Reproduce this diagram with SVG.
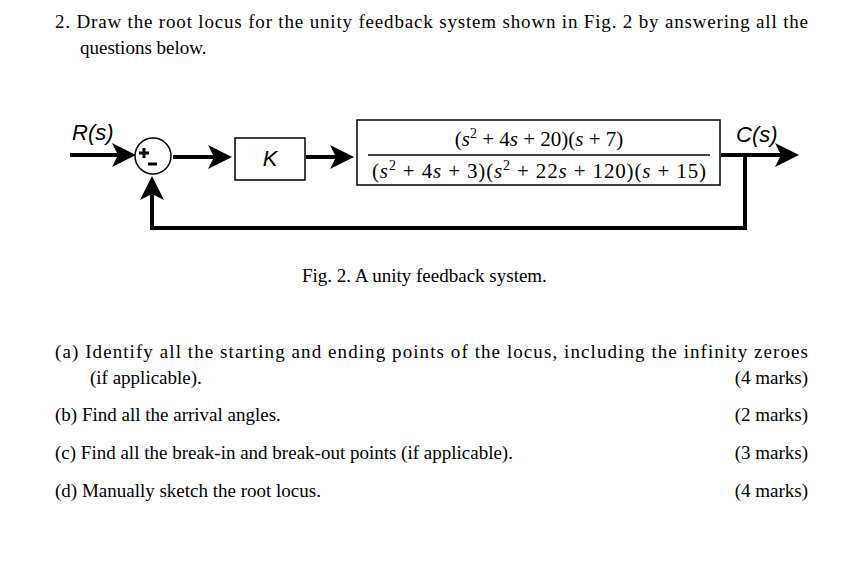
<svg xmlns="http://www.w3.org/2000/svg" width="860" height="565" viewBox="0 0 860 565">
<style>
.t{font-family:"Liberation Serif",serif;font-size:19px;fill:#000}
.m{font-family:"Liberation Serif",serif;font-size:21px;fill:#000}
.a{font-family:"Liberation Sans",sans-serif;font-size:22px;fill:#000}
.w{stroke:#000;stroke-width:4;fill:none}
.b{stroke:#000;stroke-width:1.5;fill:#fff}
</style>
<defs><marker id="ar" markerWidth="6" markerHeight="6" refX="5" refY="3" orient="auto" markerUnits="strokeWidth"><path d="M0,0 L6,3 L0,6 L1.5,3 Z" fill="#000"/></marker></defs>
<rect width="860" height="565" fill="#fff"/>
<text class="t" x="55" y="28" textLength="753" lengthAdjust="spacing">2. Draw the root locus for the unity feedback system shown in Fig. 2 by answering all the</text>
<text class="t" x="80" y="54">questions below.</text>
<g id="connectors">
<line class="w" x1="70" y1="155" x2="132" y2="155" marker-end="url(#ar)"/>
<line class="w" x1="173" y1="157" x2="228" y2="157" marker-end="url(#ar)"/>
<line class="w" x1="306" y1="157" x2="350" y2="157" marker-end="url(#ar)"/>
<line class="w" x1="721" y1="155" x2="795" y2="155" marker-end="url(#ar)"/>
<polyline class="w" points="745,155 745,228 152,228 152,180" marker-end="url(#ar)"/>
</g>
<g id="R"><text class="a" x="72" y="140" font-style="italic">R(s)</text></g>
<g id="sum"><circle class="b" cx="153" cy="156" r="18"/>
<path d="M139,153 H149 M144,148 V158 M148,164 H157" stroke="#000" stroke-width="3"/></g>
<g id="K"><rect class="b" x="235" y="138" width="70" height="42"/><text class="a" x="270" y="166" text-anchor="middle" font-style="italic">K</text></g>
<g id="G"><rect class="b" x="357" y="120" width="363" height="65"/>
<line x1="368" y1="155" x2="710" y2="155" stroke="#000" stroke-width="1.5"/>
<text class="m" x="539" y="146" text-anchor="middle">(<tspan font-style="italic">s</tspan><tspan font-size="14" dy="-8">2</tspan><tspan dy="8"> + 4</tspan><tspan font-style="italic">s</tspan> + 20)(<tspan font-style="italic">s</tspan> + 7)</text>
<text class="m" x="539" y="178" text-anchor="middle" textLength="334" lengthAdjust="spacing">(<tspan font-style="italic">s</tspan><tspan font-size="14" dy="-8">2</tspan><tspan dy="8"> + 4</tspan><tspan font-style="italic">s</tspan> + 3)(<tspan font-style="italic">s</tspan><tspan font-size="14" dy="-8">2</tspan><tspan dy="8"> + 22</tspan><tspan font-style="italic">s</tspan> + 120)(<tspan font-style="italic">s</tspan> + 15)</text></g>
<g id="C"><text class="a" x="736" y="142" font-style="italic">C(s)</text></g>
<text class="t" x="302" y="282">Fig. 2. A unity feedback system.</text>
<text class="t" x="55" y="358" textLength="753" lengthAdjust="spacing">(a) Identify all the starting and ending points of the locus, including the infinity zeroes</text>
<text class="t" x="90" y="384">(if applicable).</text>
<text class="t" x="808" y="384" text-anchor="end">(4 marks)</text>
<text class="t" x="55" y="421">(b) Find all the arrival angles.</text>
<text class="t" x="808" y="421" text-anchor="end">(2 marks)</text>
<text class="t" x="55" y="459">(c) Find all the break-in and break-out points (if applicable).</text>
<text class="t" x="808" y="459" text-anchor="end">(3 marks)</text>
<text class="t" x="55" y="497">(d) Manually sketch the root locus.</text>
<text class="t" x="808" y="497" text-anchor="end">(4 marks)</text>
</svg>
